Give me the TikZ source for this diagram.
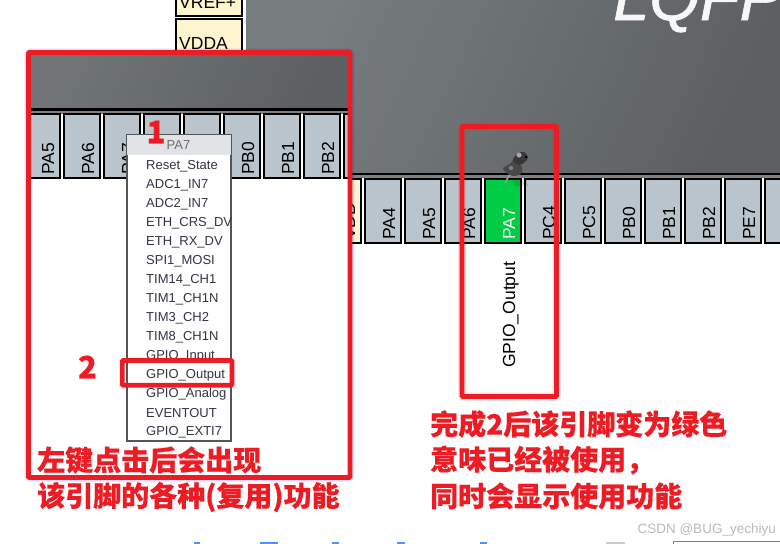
\documentclass[tikz,border=0pt]{standalone}
\usepackage{fontspec}
\setmainfont{Liberation Sans}
\newfontfamily\cjkfont{Noto Sans CJK SC}[BoldFeatures={FakeBold=0.5}]
\newfontfamily\titlefont{Liberation Sans}[ItalicFeatures={FakeBold=1}]
\definecolor{markred}{HTML}{ED1C24}
\definecolor{pingray}{HTML}{B9C4CC}
\definecolor{pinyellow}{HTML}{FFF6CF}
\definecolor{pingreen}{HTML}{00CC44}
\definecolor{chiplight}{HTML}{787D80}
\definecolor{chipdark}{HTML}{5C6062}
\definecolor{menuborder}{HTML}{555555}
\definecolor{menuhead}{HTML}{E1E4E7}
\definecolor{menutext}{HTML}{333344}
\tikzset{
    pinbox/.style={draw=black, line width=2pt, fill=pingray, minimum width=36pt, minimum height=64pt, inner sep=0pt},
    pinlabel/.style={rotate=90, anchor=base west, inner sep=0pt, font=\fontsize{17.5}{20}\selectfont},
    powerbox/.style={draw=black, line width=2pt, fill=pinyellow},
    powerlabel/.style={anchor=base west, inner sep=0pt, font=\fontsize{17.5}{20}\selectfont},
    menuitem/.style={anchor=west, inner sep=0pt, text=menutext, font=\fontsize{13}{15}\selectfont},
    markframe/.style={draw=markred, line width=4.8pt, rounded corners=1pt},
    markglow/.style={draw=#1, line width=8pt, rounded corners=2pt, opacity=0.14},
    marknote/.style={anchor=west, inner sep=0pt, text=markred, font=\cjkfont\bfseries\fontsize{28}{32}\selectfont},
    marknum/.style={inner sep=0pt, text=markred, font=\cjkfont\bfseries\fontsize{31}{34}\selectfont},
}
\begin{document}
\begin{tikzpicture}[x=1pt, y=-1pt]
        \path[use as bounding box, clip] (0,0) rectangle (780,544);
        \fill[white] (0,0) rectangle (780,544);

        % yellow pins above the left panel
        \draw[powerbox] (176,-10) rectangle (242,16);
        \draw[powerbox] (176,19) rectangle (242,60);
        \node[powerlabel] (vref) at (179,8.5) {VREF+};
        \node[powerlabel] (vdda) at (179,49) {VDDA};

        % right chip
        \shade[left color=chiplight, right color=chipdark, shading angle=65] (246,0) rectangle (780,174);
        \fill[black] (246,173.3) rectangle (780,175);
        \fill[gray] (246,175) rectangle (780,178);
        \node[inner sep=0pt, anchor=base west, text=white!94!gray, font=\titlefont\itshape\fontsize{65}{70}\selectfont] (title) at (613,20) {LQFP};

        \node[pinbox, fill=pinyellow] (rvdd) at (343,211) {};
        \node[pinlabel] (rvddtext) at (355,240) {VDD};
        \foreach \pinname [count=\i from 1, evaluate=\i as \px using 343+40*\i] in {PA4,PA5,PA6,{},PC4,PC5,PB0,PB1,PB2,PE7,{}} {
            \node[pinbox] (r\i) at (\px,211) {};
            \node[pinlabel] (rt\i) at (\px+12,240) {\pinname};
        }
        \node[pinbox, fill=pingreen] (rgreen) at (503,211) {};
        \node[pinlabel, text=white] (rgreentext) at (515,240) {PA7};
        \node[pinlabel] (rfunc) at (515,368) {GPIO\_Output};

        % push pin
        \fill[black, opacity=0.12] (510,178) -- (526,178) -- (528,186) -- (516,186) -- cycle;
        \draw[line width=1.7pt, gray!80] (510,174) -- (505,183);
        \fill[black!72] plot[smooth cycle] coordinates {(503,168) (510,164) (514,159) (518,162) (522,167) (521,174) (513,176) (507,173)};
        \fill[black!78] plot[smooth cycle] coordinates {(513,160) (518,153) (524,152) (528,157) (525,162) (519,165)};
        \fill[black!35] (519,155) circle (2.6);
        \fill[black!50] (511,168) circle (2.2);
        \fill[black] (526,157) circle (1.5);

        % left panel
        \draw[markglow=blue] (28.5,52.5) rectangle (350,477.5);
        \fill[white] (28.5,52.5) rectangle (350,477.5);
        \begin{scope}
            \clip (28.5,52.5) rectangle (350,477.5);
            \shade[left color=chiplight!70!chipdark, right color=chipdark, shading angle=65] (28,52) rectangle (350,109);
            \fill[black] (28,108.3) rectangle (350,111);
            \fill[gray] (28,111) rectangle (350,113.5);
            \foreach \pinname [count=\i from 0, evaluate=\i as \px using 23+40*\i] in {PA5,PA6,PA7,{},{},PB0,PB1,PB2,{}} {
                \node[pinbox] (l\i) at (\px+19,146.3) {};
                \node[pinlabel] (lt\i) at (\px+31,175) {\pinname};
            }
        \end{scope}

        % function menu
        \node[draw=menuborder, line width=2pt, fill=white, minimum width=104pt, minimum height=306pt, inner sep=0pt] (menu) at (178.5,288) {};
        \fill[menuhead] (126.5,135) rectangle (230.5,155);
        \node[inner sep=0pt, text=menuborder!85!white, font=\fontsize{13}{15}\selectfont] (menuhead) at (178.5,145) {PA7};
        \foreach \fname [count=\i from 0, evaluate=\i as \py using 166+19*\i] in {Reset\_State,ADC1\_IN7,ADC2\_IN7,ETH\_CRS\_DV,ETH\_RX\_DV,SPI1\_MOSI,TIM14\_CH1,TIM1\_CH1N,TIM3\_CH2,TIM8\_CH1N,GPIO\_Input,GPIO\_Output,GPIO\_Analog,EVENTOUT,GPIO\_EXTI7} {
            \node[menuitem] (item\i) at (146,\py) {\fname};
        }

        % red marks
        \draw[markframe] (28.5,52.5) rectangle (350,477.5);
        \draw[markglow=markred] (462,126.5) rectangle (556.5,396.5);
        \draw[markframe] (462,126.5) rectangle (556.5,396.5);
        \draw[markframe] (122.3,360.5) rectangle (232,385.3);
        \node[marknum] (numa) at (156,132) {1};
        \node[marknum] (numb) at (87.5,367) {2};

        \node[marknote] (notea) at (37,460) {左键点击后会出现};
        \node[marknote] (noteb) at (37,497) {该引脚的各种(复用)功能};
        \node[marknote] (notec) at (430,424) {完成2后该引脚变为绿色};
        \node[marknote] (noted) at (430,460) {意味已经被使用，};
        \node[marknote] (notee) at (430,496) {同时会显示使用功能};

        \node[anchor=east, inner sep=0pt, text=black!27, font=\fontsize{13.5}{16}\selectfont] (mark) at (776,530) {CSDN @BUG\_yechiyu};

        % bits of the next picture at the bottom edge
        \foreach \bx/\bw in {194/6,260/18,332/7,397/8,480/7} {
            \fill[blue!60!cyan!70!white] (\bx,542.3) rectangle ++(\bw,2);
        }
        \fill[black!20] (606,542.3) rectangle (625,544);
        \draw[line width=1pt, gray] (673.5,544) -- (673.5,541.5) -- (780,541.5);
    \end{tikzpicture}
\end{document}
